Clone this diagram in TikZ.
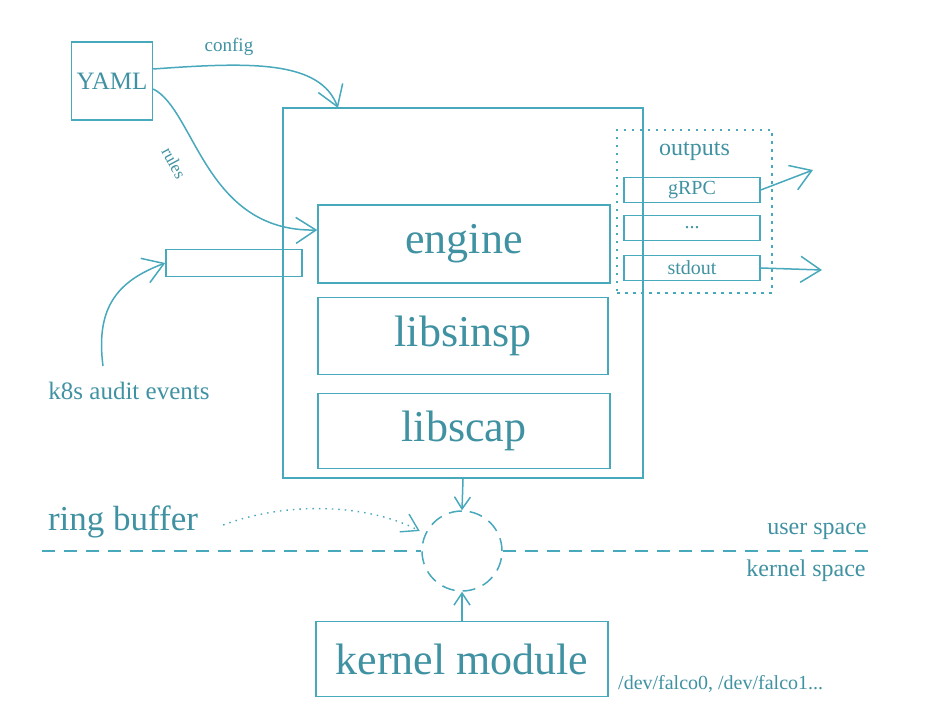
\documentclass[tikz,border=0pt]{standalone}
\usepackage{fontspec}
\setmainfont{Liberation Serif}
\usepackage{tikz}
\usetikzlibrary{arrows.meta,positioning,calc}
\definecolor{sketchteal}{RGB}{72,168,188}
\definecolor{inkteal}{RGB}{64,146,162}

\begin{document}
\begin{tikzpicture}[
  x=1pt, y=-1pt,
  box/.style={rectangle, draw=sketchteal, line width=1.5pt, text=inkteal,
              inner sep=0pt, font=\fontsize{44}{48}\selectfont},
  smallbox/.style={rectangle, draw=sketchteal, line width=1.4pt, text=inkteal,
              inner sep=0pt, minimum width=136pt, minimum height=25pt,
              font=\fontsize{20}{22}\selectfont},
  mainbox/.style={rectangle, draw=sketchteal, line width=2pt, inner sep=0pt},
  dotbox/.style={rectangle, draw=sketchteal, line width=1.4pt,
              dash pattern=on 2.5pt off 5.5pt, inner sep=0pt},
  ring/.style={circle, draw=sketchteal, line width=1.5pt,
              dash pattern=on 13pt off 8pt, inner sep=0pt, minimum size=80pt},
  lbl/.style={text=inkteal, inner sep=0pt},
  arr/.style={-{Straight Barb[length=20pt,width=26pt]}, line width=1.5pt, draw=sketchteal},
  smallarr/.style={-{Straight Barb[length=12pt,width=16pt]}, line width=1.5pt, draw=sketchteal},
  divider/.style={draw=sketchteal, line width=1.5pt, dash pattern=on 13pt off 9pt}
]
  \useasboundingbox (0,0) rectangle (938,719);

  % falco process
  \node[mainbox, minimum width=360pt, minimum height=370pt] (falco) at (463,293) {};
  \node[box, minimum width=292pt, minimum height=78pt] (engine)   at (464,244) {engine};
  \node[box, minimum width=290pt, minimum height=77pt] (libsinsp) at (463,336) {libsinsp};
  \node[box, minimum width=292pt, minimum height=75pt] (libscap)  at (464,431) {libscap};

  % config
  \node[box, minimum width=81pt, minimum height=78pt,
        font=\fontsize{25}{28}\selectfont] (yaml) at (112,81) {YAML};
  \node[lbl, font=\fontsize{19}{21}\selectfont] (config) at (229,47) {config};
  \node[lbl, font=\fontsize{17}{19}\selectfont, rotate=-62] (rules) at (174,163) {rules};
  \coordinate (cfgin) at (338,108);
  \draw[arr] ($(yaml.east)+(0,-12)$) .. controls (250,62) and (320,60) .. (cfgin);
  \draw[arr] ($(yaml.east)+(0,8)$) .. controls (195,110) and (205,232) .. (engine.west |- 0,230);

  % k8s audit events
  \node[rectangle, draw=sketchteal, line width=1.4pt, minimum width=136pt,
        minimum height=27pt, inner sep=0pt] (audit) at (234,263) {};
  \node[lbl, font=\fontsize{25}{28}\selectfont] (k8s) at (129,391) {k8s audit events};
  \draw[arr] (103,366) .. controls (95,305) and (120,280) .. (audit.west);

  % outputs
  \node[dotbox, minimum width=155pt, minimum height=163pt] (outs) at (694.5,211.5) {};
  \node[lbl, font=\fontsize{24}{26}\selectfont, below=12pt of outs.north] (outlbl) {outputs};
  \node[smallbox] (grpc)   at (692,190) {gRPC};
  \node[smallbox] (more)   at (692,228) {...};
  \node[smallbox] (stdout) at (692,268) {stdout};
  \coordinate (grpcout) at (813,170);
  \coordinate (stdoutout) at (822,270);
  \draw[arr] (grpc.east) -- (grpcout);
  \draw[arr] (stdout.east) -- (stdoutout);

  % ring buffer
  \node[ring] (rb) at (462,551) {};
  \node[lbl, font=\fontsize{35}{38}\selectfont] (rblbl) at (123,522) {ring buffer};
  \coordinate (lineL) at (42,551);
  \coordinate (lineR) at (875,551);
  \draw[divider] (lineL) -- (rb.west);
  \draw[divider] (rb.east) -- (lineR);
  \node[lbl, font=\fontsize{24}{26}\selectfont] (user)   at (817,531) {user space};
  \node[lbl, font=\fontsize{24}{26}\selectfont] (kernel) at (806,571) {kernel space};
  \draw[-{Straight Barb[length=16pt,width=20pt]}, draw=sketchteal, line width=1.4pt,
        dash pattern=on 1.5pt off 5pt, shorten >=6pt]
        (rblbl.east) ++(25,3) .. controls (290,500) and (370,505) .. (rb.155);
  \draw[smallarr] (falco.south) -- (rb.north);

  % kernel side
  \node[box, minimum width=292pt, minimum height=75pt] (kmod) at (462,659) {kernel module};
  \draw[smallarr] (kmod.north) -- (rb.south);
  \node[lbl, anchor=west, font=\fontsize{20}{22}\selectfont] (dev) at (618,684)
       {/dev/falco0, /dev/falco1...};
\end{tikzpicture}
\end{document}
